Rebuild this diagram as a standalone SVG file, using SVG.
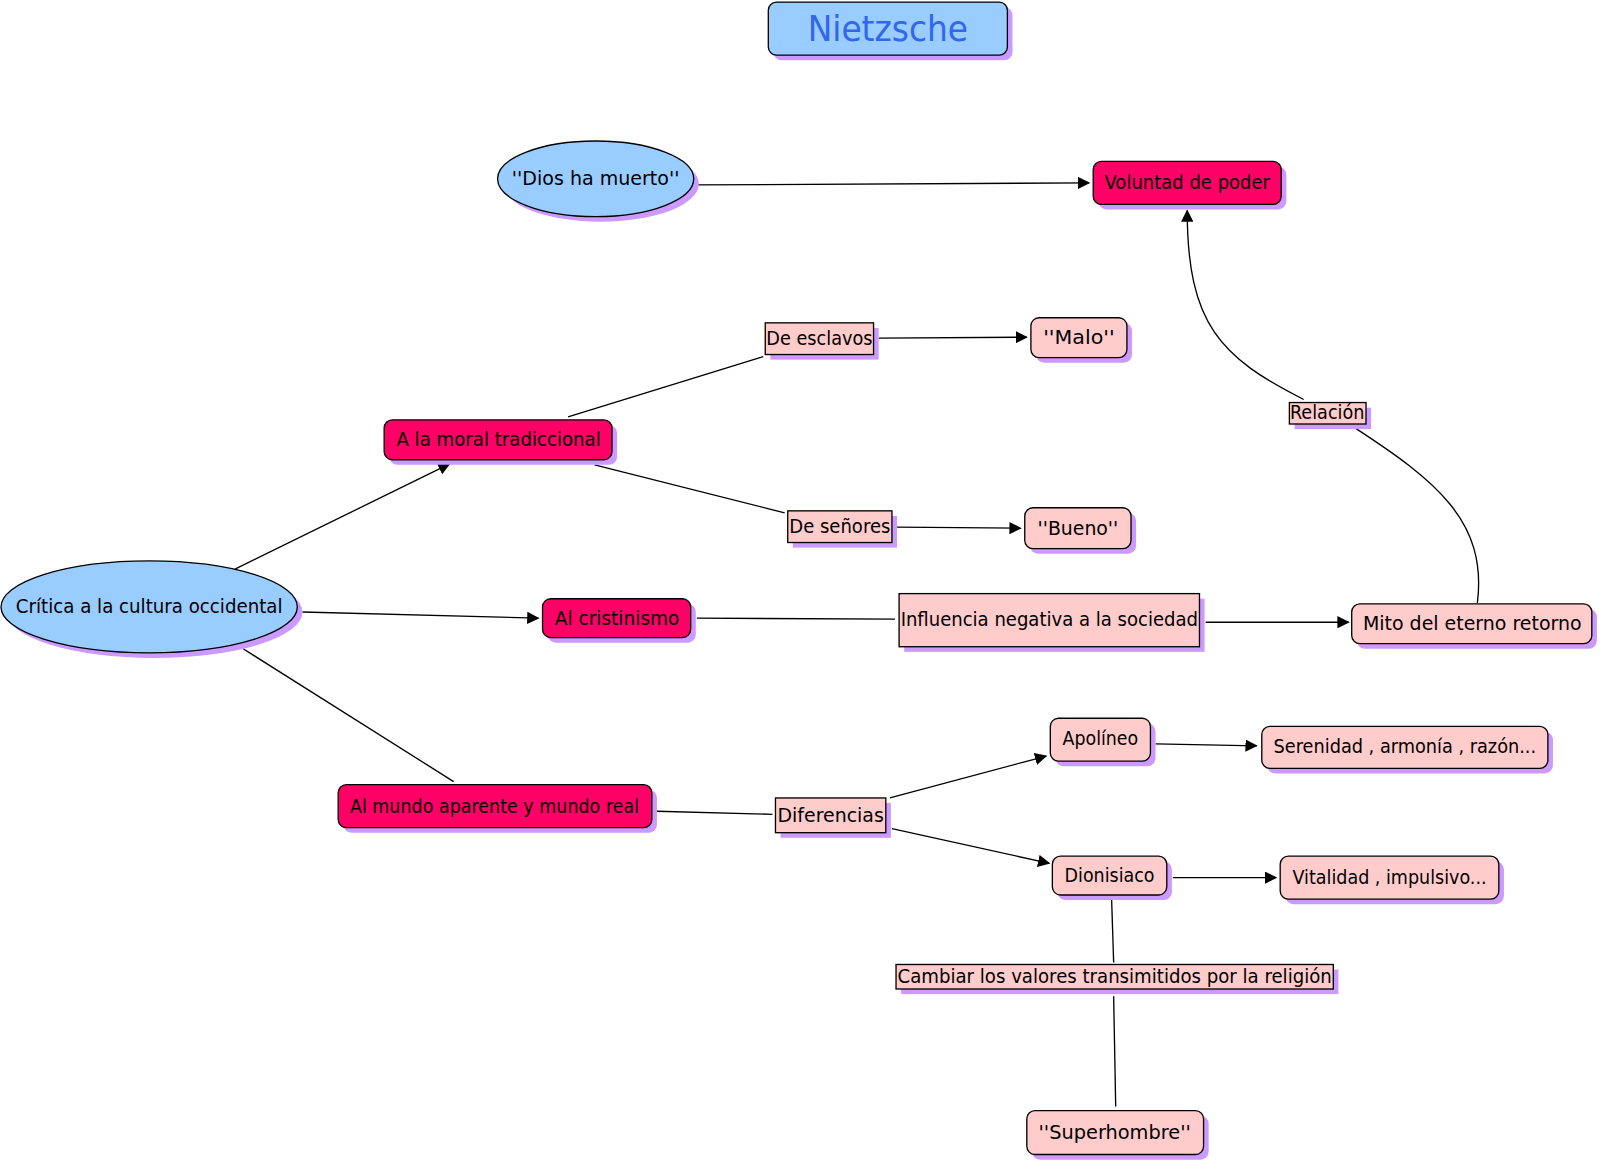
<svg xmlns="http://www.w3.org/2000/svg" width="1600" height="1162" viewBox="0 0 1600 1162">
<defs>
<marker id="arr" viewBox="0 0 12 12" refX="11" refY="6" markerWidth="12" markerHeight="12" markerUnits="userSpaceOnUse" orient="auto">
<path d="M0,0 L12,6 L0,12 z" fill="#000"/>
</marker>
<style>
.sh{fill:#cc99ff}
.blue{fill:#99ccff;stroke:#000;stroke-width:1.3}
.red{fill:#ff0066;stroke:#000;stroke-width:1.3}
.pink{fill:#ffcccc;stroke:#000;stroke-width:1.3}
.lbl{fill:#ffcccc;stroke:#000;stroke-width:1.3}
text{font-family:"DejaVu Sans","Liberation Sans",sans-serif;font-size:19px;fill:#000;text-anchor:middle;dominant-baseline:central}
.title{font-size:35px;fill:#3366ee}
.edge{fill:none;stroke:#000;stroke-width:1.3}
</style>
</defs>
<rect width="1600" height="1162" fill="#fff"/>
<g transform="scale(1.0217)">

<g id="connectors">
<path class="edge" d="M680,181 L1066,179" marker-end="url(#arr)"/>
<path class="edge" d="M1446,590 C1456,510 1405,470 1325,418"/>
<path class="edge" d="M1276,391 C1195,350 1162,318 1162,206" marker-end="url(#arr)"/>
<path class="edge" d="M230,557 L440,454" marker-end="url(#arr)"/>
<path class="edge" d="M556,408 L747,349"/>
<path class="edge" d="M860,331 L1005,330" marker-end="url(#arr)"/>
<path class="edge" d="M582,455 L768,502"/>
<path class="edge" d="M878,516 L999,517" marker-end="url(#arr)"/>
<path class="edge" d="M296,599 L527,605" marker-end="url(#arr)"/>
<path class="edge" d="M682,605 L876,606"/>
<path class="edge" d="M1180,609 L1320,609" marker-end="url(#arr)"/>
<path class="edge" d="M238,635 L444,765"/>
<path class="edge" d="M643,794 L756,797"/>
<path class="edge" d="M871,781 L1024,740" marker-end="url(#arr)"/>
<path class="edge" d="M873,811 L1027,845" marker-end="url(#arr)"/>
<path class="edge" d="M1131,728 L1230,730" marker-end="url(#arr)"/>
<path class="edge" d="M1148,859 L1249,859" marker-end="url(#arr)"/>
<path class="edge" d="M1088,880 L1090,942"/>
<path class="edge" d="M1090,975 L1092,1083"/>
</g>

<g id="n-title">
<rect class="sh" x="757" y="7" width="234" height="52" rx="8"/>
<rect class="blue" x="752" y="2" width="234" height="52" rx="8"/>
<text class="title" x="869" y="28" textLength="157" lengthAdjust="spacingAndGlyphs">Nietzsche</text>
</g>

<g id="n-dios">
<ellipse class="sh" cx="588" cy="180" rx="96" ry="37"/>
<ellipse class="blue" cx="583" cy="175" rx="96" ry="37"/>
<text x="583" y="175" textLength="164" lengthAdjust="spacingAndGlyphs">''Dios ha muerto''</text>
</g>

<g id="n-voluntad">
<rect class="sh" x="1075" y="163" width="184" height="42" rx="8"/>
<rect class="red" x="1070" y="158" width="184" height="42" rx="8"/>
<text x="1162" y="179" textLength="162" lengthAdjust="spacingAndGlyphs">Voluntad de poder</text>
</g>

<g id="n-esclavos">
<rect class="sh" x="754" y="321" width="106" height="31"/>
<rect class="lbl" x="749" y="316" width="106" height="31"/>
<text x="802" y="331" textLength="104" lengthAdjust="spacingAndGlyphs">De esclavos</text>
</g>

<g id="n-malo">
<rect class="sh" x="1014" y="316" width="94" height="39" rx="8"/>
<rect class="pink" x="1009" y="311" width="94" height="39" rx="8"/>
<text x="1056" y="330" textLength="70" lengthAdjust="spacingAndGlyphs">''Malo''</text>
</g>

<g id="n-moral">
<rect class="sh" x="381" y="416" width="223" height="39" rx="8"/>
<rect class="red" x="376" y="411" width="223" height="39" rx="8"/>
<text x="488" y="430" textLength="200" lengthAdjust="spacingAndGlyphs">A la moral tradiccional</text>
</g>

<g id="n-relacion">
<rect class="sh" x="1267" y="399" width="75" height="21"/>
<rect class="lbl" x="1262" y="394" width="75" height="21"/>
<text x="1299" y="404" textLength="73" lengthAdjust="spacingAndGlyphs">Relación</text>
</g>

<g id="n-senores">
<rect class="sh" x="776" y="505" width="102" height="31"/>
<rect class="lbl" x="771" y="500" width="102" height="31"/>
<text x="822" y="515" textLength="99" lengthAdjust="spacingAndGlyphs">De señores</text>
</g>

<g id="n-bueno">
<rect class="sh" x="1008" y="502" width="104" height="40" rx="8"/>
<rect class="pink" x="1003" y="497" width="104" height="40" rx="8"/>
<text x="1055" y="517" textLength="79" lengthAdjust="spacingAndGlyphs">''Bueno''</text>
</g>

<g id="n-critica">
<ellipse class="sh" cx="151" cy="599" rx="145" ry="45"/>
<ellipse class="blue" cx="146" cy="594" rx="145" ry="45"/>
<text x="146" y="594" textLength="261" lengthAdjust="spacingAndGlyphs">Crítica a la cultura occidental</text>
</g>

<g id="n-cristinismo">
<rect class="sh" x="536" y="591" width="145" height="38" rx="8"/>
<rect class="red" x="531" y="586" width="145" height="38" rx="8"/>
<text x="604" y="605" textLength="122" lengthAdjust="spacingAndGlyphs">Al cristinismo</text>
</g>

<g id="n-influencia">
<rect class="sh" x="885" y="586" width="294" height="52"/>
<rect class="lbl" x="880" y="581" width="294" height="52"/>
<text x="1027" y="606" textLength="291" lengthAdjust="spacingAndGlyphs">Influencia negativa a la sociedad</text>
</g>

<g id="n-mito">
<rect class="sh" x="1328" y="596" width="235" height="39" rx="8"/>
<rect class="pink" x="1323" y="591" width="235" height="39" rx="8"/>
<text x="1441" y="610" textLength="214" lengthAdjust="spacingAndGlyphs">Mito del eterno retorno</text>
</g>

<g id="n-apolineo">
<rect class="sh" x="1033" y="708" width="98" height="42" rx="8"/>
<rect class="pink" x="1028" y="703" width="98" height="42" rx="8"/>
<text x="1077" y="723" textLength="74" lengthAdjust="spacingAndGlyphs">Apolíneo</text>
</g>

<g id="n-serenidad">
<rect class="sh" x="1240" y="716" width="280" height="41" rx="8"/>
<rect class="pink" x="1235" y="711" width="280" height="41" rx="8"/>
<text x="1375" y="731" textLength="257" lengthAdjust="spacingAndGlyphs">Serenidad , armonía , razón...</text>
</g>

<g id="n-mundo">
<rect class="sh" x="336" y="773" width="307" height="42" rx="8"/>
<rect class="red" x="331" y="768" width="307" height="42" rx="8"/>
<text x="484" y="789" textLength="283" lengthAdjust="spacingAndGlyphs">Al mundo aparente y mundo real</text>
</g>

<g id="n-diferencias">
<rect class="sh" x="764" y="786" width="108" height="34"/>
<rect class="lbl" x="759" y="781" width="108" height="34"/>
<text x="813" y="798" textLength="104" lengthAdjust="spacingAndGlyphs">Diferencias</text>
</g>

<g id="n-dionisiaco">
<rect class="sh" x="1035" y="843" width="112" height="38" rx="8"/>
<rect class="pink" x="1030" y="838" width="112" height="38" rx="8"/>
<text x="1086" y="857" textLength="88" lengthAdjust="spacingAndGlyphs">Dionisiaco</text>
</g>

<g id="n-vitalidad">
<rect class="sh" x="1258" y="843" width="214" height="42" rx="8"/>
<rect class="pink" x="1253" y="838" width="214" height="42" rx="8"/>
<text x="1360" y="859" textLength="190" lengthAdjust="spacingAndGlyphs">Vitalidad , impulsivo...</text>
</g>

<g id="n-cambiar">
<rect class="sh" x="882" y="949" width="428" height="24"/>
<rect class="lbl" x="877" y="944" width="428" height="24"/>
<text x="1091" y="956" textLength="425" lengthAdjust="spacingAndGlyphs">Cambiar los valores transimitidos por la religión</text>
</g>

<g id="n-superhombre">
<rect class="sh" x="1010" y="1092" width="173" height="43" rx="8"/>
<rect class="pink" x="1005" y="1087" width="173" height="43" rx="8"/>
<text x="1091" y="1108" textLength="149" lengthAdjust="spacingAndGlyphs">''Superhombre''</text>
</g>
</g>
</svg>
